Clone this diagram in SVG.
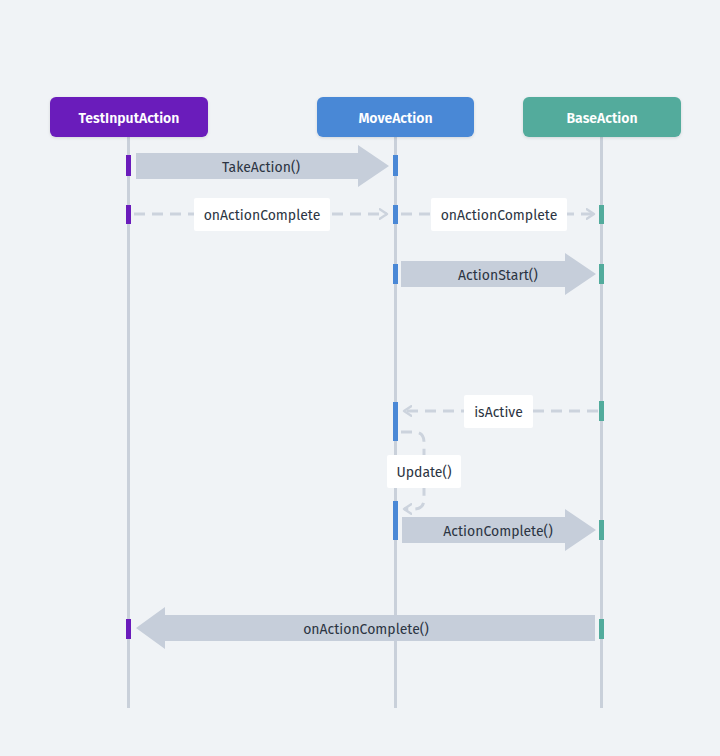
<svg xmlns="http://www.w3.org/2000/svg" width="720" height="756" viewBox="0 0 720 756">
<defs>
<style>
.ntext{font-family:"Fira Sans","Noto Sans","Open Sans",sans-serif;font-size:14px;font-weight:600;fill:#ffffff;text-anchor:middle;dominant-baseline:central}
.ltext{font-family:"Fira Sans","Noto Sans","Open Sans",sans-serif;font-size:14px;fill:#2b3442;text-anchor:middle;dominant-baseline:central}
.life{stroke:#c9d0da;stroke-width:3}
.fat{fill:#c6ceda}
.dash{fill:none;stroke:#ccd3dd;stroke-width:3;stroke-dasharray:11 7}
.lbl{fill:#ffffff}
.p{fill:#6a1bbb}.b{fill:#4a88d6}.t{fill:#52ab9c}
</style>
<marker id="chev" viewBox="0 0 10 10" refX="7" refY="5" markerWidth="4" markerHeight="4" orient="auto" markerUnits="strokeWidth">
<path d="M1,1 L7,5 L1,9" fill="none" stroke="#ccd3dd" stroke-width="2" stroke-linecap="round" stroke-linejoin="round"/>
</marker>
<filter id="sh" x="-10%" y="-20%" width="120%" height="150%">
<feDropShadow dx="0" dy="1" stdDeviation="1.5" flood-color="#000" flood-opacity="0.12"/>
</filter>
</defs>
<rect width="720" height="756" fill="#f0f3f6"/>
<g id="lifelines">
<line class="life" x1="128.5" y1="137" x2="128.5" y2="708"/>
<line class="life" x1="395.5" y1="137" x2="395.5" y2="708"/>
<line class="life" x1="601.5" y1="137" x2="601.5" y2="708"/>
</g>
<g id="node-TestInputAction">
<rect x="50" y="97" width="158" height="40" rx="6" fill="#6a1bbb" filter="url(#sh)"/>
<text class="ntext" x="129" y="118">TestInputAction</text>
</g>
<g id="node-MoveAction">
<rect x="317" y="97" width="157" height="40" rx="6" fill="#4a88d6" filter="url(#sh)"/>
<text class="ntext" x="395.5" y="118">MoveAction</text>
</g>
<g id="node-BaseAction">
<rect x="523" y="97" width="158" height="40" rx="6" fill="#52ab9c" filter="url(#sh)"/>
<text class="ntext" x="602" y="118">BaseAction</text>
</g>
<g id="activations">
<rect class="p" x="126" y="155" width="5" height="21"/>
<rect class="b" x="393" y="155" width="5" height="21"/>
<rect class="p" x="126" y="205" width="5" height="19"/>
<rect class="b" x="393" y="205" width="5" height="19"/>
<rect class="t" x="599" y="205" width="5" height="19"/>
<rect class="b" x="393" y="264" width="5" height="20"/>
<rect class="t" x="599" y="264" width="5" height="20"/>
<rect class="b" x="393" y="402" width="5" height="39"/>
<rect class="t" x="599" y="401" width="5" height="20"/>
<rect class="b" x="393" y="501" width="5" height="39"/>
<rect class="t" x="599" y="520" width="5" height="20"/>
<rect class="p" x="126" y="619" width="5" height="20"/>
<rect class="t" x="599" y="619" width="5" height="20"/>
</g>
<g id="connectors">
<path class="fat" d="M136,153 H358 V145 L389,166 L358,187 V179 H136 Z"/>
<text class="ltext" x="261" y="167">TakeAction()</text>

<line class="dash" x1="134" y1="214" x2="387" y2="214" marker-end="url(#chev)"/>
<rect class="lbl" x="194" y="198" width="136" height="33" rx="2"/>
<text class="ltext" x="262" y="215.5">onActionComplete</text>

<line class="dash" x1="401" y1="214" x2="594" y2="214" marker-end="url(#chev)"/>
<rect class="lbl" x="431" y="198" width="136" height="33" rx="2"/>
<text class="ltext" x="499" y="215.5">onActionComplete</text>

<path class="fat" d="M401,261 H565 V253 L596,274 L565,295 V287 H401 Z"/>
<text class="ltext" x="498" y="275">ActionStart()</text>

<line class="dash" x1="598" y1="411" x2="404" y2="411" marker-end="url(#chev)"/>
<rect class="lbl" x="464" y="395" width="69" height="33" rx="2"/>
<text class="ltext" x="498.5" y="412.5">isActive</text>

<path class="dash" d="M401,432 H414 Q424,432 424,442 V499 Q424,509 414,509 H404" marker-end="url(#chev)"/>
<rect class="lbl" x="387" y="455" width="74" height="33" rx="2"/>
<text class="ltext" x="424" y="472.5">Update()</text>

<path class="fat" d="M402,517 H565 V509 L596,530 L565,551 V543 H402 Z"/>
<text class="ltext" x="498" y="531">ActionComplete()</text>

<path class="fat" d="M595,615 H165 V607 L136,628 L165,649 V641 H595 Z"/>
<text class="ltext" x="366" y="629.5">onActionComplete()</text>
</g>
</svg>
